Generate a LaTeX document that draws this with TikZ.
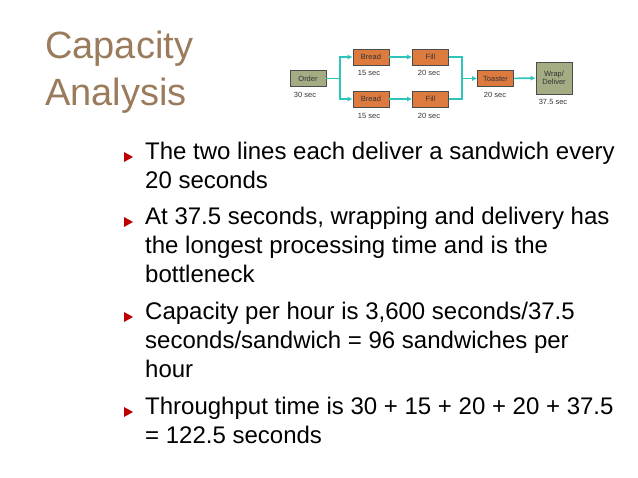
\documentclass[tikz,border=0pt]{standalone}
\usepackage{fontspec}
\setmainfont{Liberation Sans}
\usetikzlibrary{arrows.meta}
\definecolor{og}{HTML}{DD7A3E}
\definecolor{gr}{HTML}{A3AC83}
\definecolor{tl}{HTML}{2EC4BC}
\definecolor{tt}{HTML}{9A7B5C}
\begin{document}
\begin{tikzpicture}[x=1pt,y=-1pt,
  box/.style={draw=black!70,line width=0.6pt,minimum height=16pt,minimum width=36pt,inner sep=0pt,font=\fontsize{7.5}{8}\selectfont,text=black!80},
  grn/.style={box,fill=gr},
  org/.style={box,fill=og},
  lab/.style={font=\fontsize{7.5}{8}\selectfont,text=black!80},
  ln/.style={draw=tl,line width=1.6pt},
  con/.style={ln,-{Latex[length=5pt,width=5pt]}},
  bul/.style={anchor=north west,align=left,font=\fontsize{24}{29}\selectfont,inner sep=0pt},
  tri/.style={fill=red!75!black,draw=none}]
\useasboundingbox (0,0) rectangle (638,478);
\node[anchor=west,font=\fontsize{38}{47}\selectfont,text=tt,align=left,inner sep=0pt] (title) at (45,72) {Capacity\\Analysis};
\node[grn] (order) at (308,78.5) {Order};
\node[org] (b1) at (371,57) {Bread};
\node[org] (f1) at (430.5,57) {Fill};
\node[org] (b2) at (371,99) {Bread};
\node[org] (f2) at (430.5,99) {Fill};
\node[org] (toast) at (495.5,78.5) {Toaster};
\node[grn,minimum height=32pt,align=center] (wrap) at (554,78) {Wrap/\\Deliver};
\node[lab] (l0) at (305,95) {30 sec};
\node[lab] (l1) at (369,73) {15 sec};
\node[lab] (l2) at (429,73) {20 sec};
\node[lab] (l3) at (369,116) {15 sec};
\node[lab] (l4) at (429,116) {20 sec};
\node[lab] (l5) at (495,95) {20 sec};
\node[lab] (l6) at (553,102) {37.5 sec};
\coordinate (j1) at (340,78.5);
\coordinate (j2) at (462,78.5);
\draw[ln] (order.east) -- (j1);
\draw[con] (j1) |- (b1.west);
\draw[con] (j1) |- (b2.west);
\draw[con] (b1) -- (f1);
\draw[con] (b2) -- (f2);
\draw[ln] (f1.east) -| (j2) |- (f2.east);
\draw[con] (j2) -- (toast.west);
\draw[con] (toast) -- (wrap);
\foreach \y in {157,222,317,412}{
  \fill[tri] (124,\y-5) -- (133,\y) -- (124,\y+5) -- cycle;}
\node[bul] (p1) at (145,142) {The two lines each deliver a sandwich every\\20 seconds};
\node[bul] (p2) at (145,207) {At 37.5 seconds, wrapping and delivery has\\the longest processing time and is the\\bottleneck};
\node[bul] (p3) at (145,302) {Capacity per hour is 3,600 seconds/37.5\\seconds/sandwich = 96 sandwiches per\\hour};
\node[bul] (p4) at (145,397) {Throughput time is 30 + 15 + 20 + 20 + 37.5\\= 122.5 seconds};
\end{tikzpicture}
\end{document}
